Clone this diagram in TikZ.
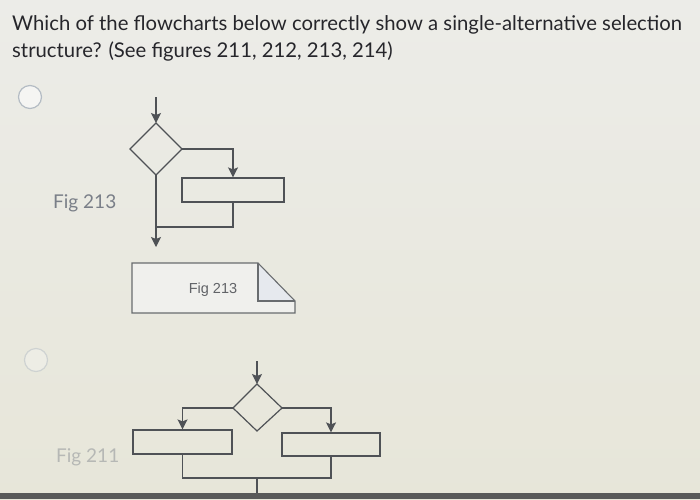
\documentclass[tikz,border=0pt]{standalone}
\usepackage{fontspec}
\setmainfont{Lato}
\newfontfamily\arialfont{Liberation Sans}
\usetikzlibrary{arrows.meta}
\definecolor{bgtop}{HTML}{ECECE8}
\definecolor{bgbot}{HTML}{E7E6D9}
\definecolor{titlecol}{HTML}{26262B}
\definecolor{flowcol}{HTML}{4F5256}
\definecolor{labcol}{HTML}{7A7F88}
\definecolor{radiocol}{HTML}{B4BCC4}
\definecolor{foldcol}{HTML}{E6E9EE}
\tikzset{
  flow/.style={draw=flowcol, line width=1.2pt},
  arr/.style={flow, -{Stealth[length=10pt,width=10pt,inset=2pt]}},
  box/.style={flow, rectangle, inner sep=0pt},
  radio/.style={circle, draw=radiocol, line width=1.2pt, fill=white!50!bgtop, minimum size=23pt, inner sep=0pt},
}
\begin{document}
\begin{tikzpicture}[x=1pt,y=-1pt]
\useasboundingbox (0,0) rectangle (700,499);
\shade[top color=bgtop, bottom color=bgbot] (0,0) rectangle (700,499);
\fill[black!65] (0,493) rectangle (700,499);
% title
\node[anchor=base west, inner sep=0pt, text=titlecol, font=\fontsize{20.3}{24}\selectfont] (t1) at (12,30) {Which of the flowcharts below correctly show a single-alternative selection};
\node[anchor=base west, inner sep=0pt, text=titlecol, font=\fontsize{20.3}{24}\selectfont] (t2) at (12,57) {structure? (See figures 211, 212, 213, 214)};
% radio 1
\node[radio] (r1) at (30,97) {};
\node[anchor=base west, inner sep=0pt, text=labcol, font=\fontsize{19}{22}\selectfont] (l1) at (53,208) {Fig 213};
% Fig 213 flowchart
\coordinate (a1) at (156,97);
\coordinate (d1t) at (156,123);
\coordinate (d1l) at (130,149);
\coordinate (d1r) at (182,149);
\coordinate (d1b) at (156,175);
\draw[flow] (d1t) -- (d1r) -- (d1b) -- (d1l) -- cycle;
\draw[arr] (a1) -- (d1t);
\node[box, minimum width=102pt, minimum height=24pt] (b1) at (233,190) {};
\draw[arr] (d1r) -| (b1.north);
\coordinate (j1) at (156,227);
\draw[flow] (b1.south) |- (j1);
\coordinate (e1) at (156,247);
\draw[arr] (d1b) -- (e1);
% Fig 213 label card
\fill[white!20!bgtop] (132,263) -- (258,263) -- (295,301) -- (295,313) -- (132,313) -- cycle;
\fill[foldcol] (258,263) -- (295,301) -- (258,301) -- cycle;
\draw[flowcol!85, line width=1.1pt] (132,263) -- (258,263) -- (295,301) -- (295,313) -- (132,313) -- cycle;
\draw[flowcol!85, line width=1.1pt] (258,263) -- (258,301) -- (295,301);
\node[text=flowcol!90, font=\arialfont\fontsize{14.5}{16}\selectfont] (card) at (213,290) {Fig 213};
% radio 2
\node[radio, draw opacity=0.5, fill opacity=0.4] (r2) at (36,360) {};
\node[anchor=base west, inner sep=0pt, text=labcol!45!bgbot, font=\fontsize{19}{22}\selectfont] (l2) at (56,462) {Fig 211};
% Fig 211 flowchart
\coordinate (a2) at (257,361);
\coordinate (d2t) at (257,384);
\coordinate (d2l) at (233,408);
\coordinate (d2r) at (282,408);
\coordinate (d2b) at (257,431);
\draw[flow] (d2t) -- (d2r) -- (d2b) -- (d2l) -- cycle;
\draw[arr] (a2) -- (d2t);
\node[box, minimum width=99pt, minimum height=24pt] (b2) at (182.5,442) {};
\node[box, minimum width=98pt, minimum height=23pt] (b3) at (331,444.5) {};
\draw[arr] (d2l) -| (b2.north);
\draw[arr] (d2r) -| (b3.north);
\coordinate (j2) at (257,478);
\draw[flow] (b2.south) |- (j2) -| (b3.south);
\coordinate (e2) at (257,493);
\draw[flow] (j2) -- (e2);
\end{tikzpicture}
\end{document}
